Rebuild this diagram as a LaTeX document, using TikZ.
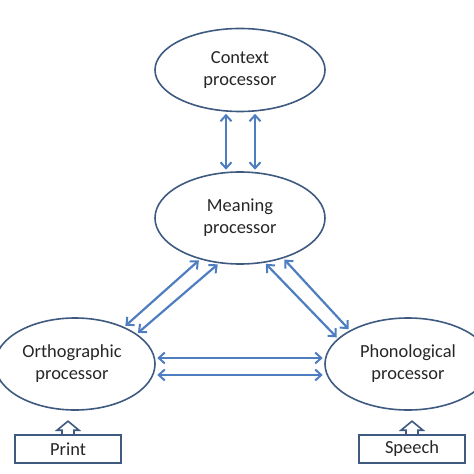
\documentclass[tikz,border=0pt]{standalone}
\usepackage{fontspec}
\setmainfont{Carlito}
\usetikzlibrary{shapes.geometric,arrows.meta}
\definecolor{rimcol}{HTML}{3E5A80}
\definecolor{linkcol}{HTML}{4F7EC0}
\tikzset{
  proc/.style={ellipse,draw=rimcol,line width=1.6bp,inner sep=0pt,align=center,
    font=\fontsize{18.5}{22}\selectfont,text=black!85},
  inbox/.style={rectangle,draw=rimcol,line width=1.6bp,minimum width=106bp,minimum height=28bp,
    inner sep=0pt,font=\fontsize{18.5}{22}\selectfont,text=black!85},
  dbl/.style={{Straight Barb[length=6bp,width=11bp,line width=2bp]}-{Straight Barb[length=6bp,width=11bp,line width=2bp]},
    draw=linkcol,line width=2.2bp,shorten <=1.5bp,shorten >=1.5bp},
}
\begin{document}
\begin{tikzpicture}[x=1bp,y=-1bp]
  \useasboundingbox (0,0) rectangle (474,474);
  \clip (0,0) rectangle (474,474);
  % Nodes
  \node[proc,minimum width=170bp,minimum height=83bp] (context) at (240,70) {Context\\processor};
  \node[proc,minimum width=170bp,minimum height=92bp] (meaning) at (240,218) {Meaning\\processor};
  \node[proc,minimum width=160bp,minimum height=92bp] (ortho) at (75,364) {};
  \node at (72,364) [align=center,font=\fontsize{18.5}{22}\selectfont,text=black!85] {Orthographic\\processor};
  \node[proc,minimum width=166bp,minimum height=92bp] (phon) at (408,364) {Phonological\\processor};
  \node[inbox] (print) at (68,449) {Print};
  \node[inbox] (speech) at (412,449) {Speech};
  % Edge: context <-> meaning
  \draw[dbl] ([xshift=-14bp]context.south) -- ([xshift=-14bp]meaning.north);
  \draw[dbl] ([xshift=15bp]context.south) -- ([xshift=15bp]meaning.north);
  % Edge: meaning <-> ortho
  \draw[dbl] (meaning.226) -- (ortho.37);
  \draw[dbl] (meaning.245) -- (ortho.26);
  % Edge: meaning <-> phon
  \draw[dbl] (meaning.317) -- (phon.150);
  \draw[dbl] (meaning.299) -- (phon.160);
  % Edge: ortho <-> phon
  \draw[dbl] ([yshift=6bp]ortho.east) -- ([yshift=6bp]phon.west);
  \draw[dbl] ([yshift=-11bp]ortho.east) -- ([yshift=-11bp]phon.west);
  % Input arrows
  \foreach \src in {print,speech}
    \draw[draw=rimcol,line width=1.6bp,line join=miter] ([xshift=-6bp]\src.north) -- ++(0,-4) -- ++(-5,0)
      -- ++(11,-9) -- ++(11,9) -- ++(-5,0) -- ++(0,4);
\end{tikzpicture}
\end{document}
